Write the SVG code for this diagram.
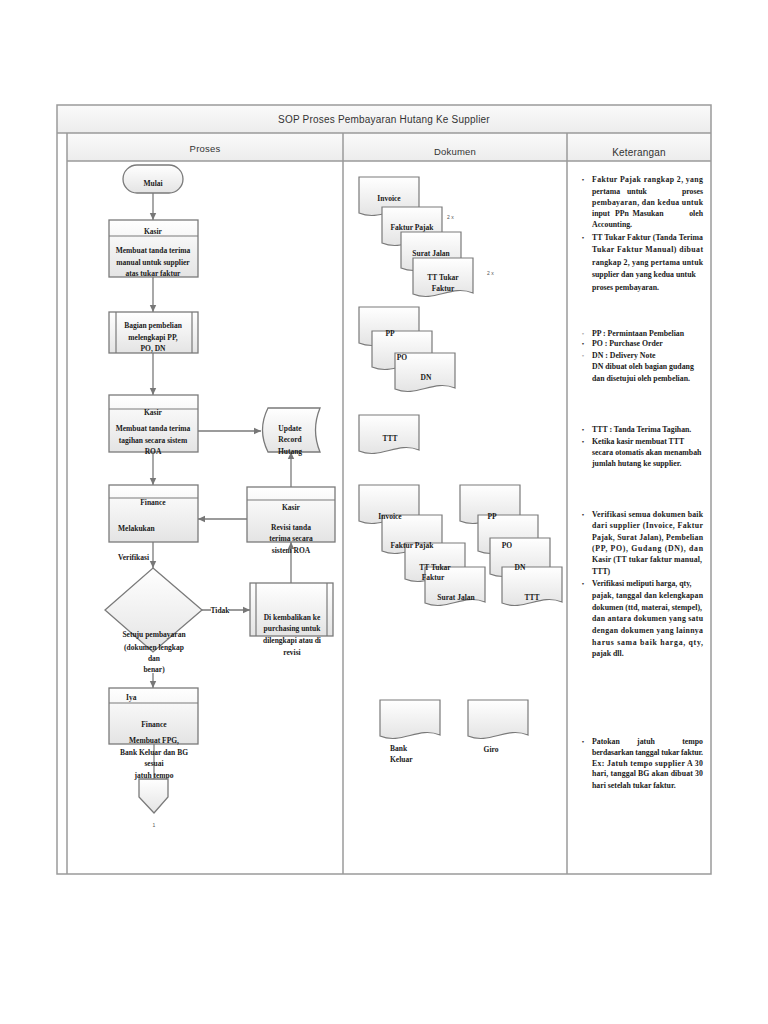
<svg xmlns="http://www.w3.org/2000/svg" xmlns:xlink="http://www.w3.org/1999/xlink" width="768" height="1024" viewBox="0 0 768 1024">
<defs>
<linearGradient id="g" x1="0" y1="0" x2="0" y2="1"><stop offset="0" stop-color="#ffffff"/><stop offset="1" stop-color="#e4e4e4"/></linearGradient>
<linearGradient id="hg" x1="0" y1="0" x2="0" y2="1"><stop offset="0" stop-color="#fafafa"/><stop offset="1" stop-color="#ececec"/></linearGradient>
<marker id="ah" markerUnits="userSpaceOnUse" markerWidth="8" markerHeight="8" refX="7" refY="4" orient="auto"><path d="M0,0.8 L7,4 L0,7.2 Z" fill="#777"/></marker>
<path id="doc" d="M0,0 H60 V35 C38,26 22,45 0,36 Z" fill="url(#g)" stroke="#7a7a7a" stroke-width="1.2"/>
<style>
.fr{fill:none;stroke:#9a9a9a;stroke-width:1.5}
.box{fill:url(#g);stroke:#7a7a7a;stroke-width:1.3}
.ln{fill:none;stroke:#7a7a7a;stroke-width:1.2}
.arr{fill:none;stroke:#7a7a7a;stroke-width:1.3;marker-end:url(#ah)}
.t{font-family:"Liberation Serif",serif;font-size:7.5px;font-weight:bold;fill:#1a1a1a;text-anchor:middle}
.tl{font-family:"Liberation Serif",serif;font-size:7.5px;font-weight:bold;fill:#1a1a1a}
.k{font-family:"Liberation Serif",serif;font-size:7.8px;font-weight:bold;fill:#1a1a1a}
.ke{font-family:"Liberation Serif",serif;font-size:7.8px;font-weight:bold;fill:#1a1a1a;text-anchor:end}
.km{font-family:"Liberation Serif",serif;font-size:7.8px;font-weight:bold;fill:#1a1a1a;text-anchor:middle}
.b{font-family:"Liberation Serif",serif;font-size:7px;fill:#222;text-anchor:middle}
.bf{font-family:"Liberation Serif",serif;font-size:7px;fill:#aaa;text-anchor:middle}
.h{font-family:"Liberation Sans",sans-serif;font-size:10px;fill:#333;text-anchor:middle;letter-spacing:0.2px}
.s{font-family:"Liberation Sans",sans-serif;font-size:5px;fill:#555}
</style>
</defs>
<rect width="768" height="1024" fill="#ffffff"/>

<g id="frame">
<rect x="57" y="105" width="654" height="28" fill="url(#hg)"/>
<rect x="67" y="133" width="644" height="28" fill="url(#hg)"/>
<rect x="57" y="105" width="654" height="769" class="fr"/>
<line x1="57" y1="133" x2="711" y2="133" class="fr"/>
<line x1="67" y1="133" x2="67" y2="874" class="fr"/>
<line x1="343" y1="133" x2="343" y2="874" class="fr"/>
<line x1="567" y1="133" x2="567" y2="874" class="fr" stroke-width="2"/>
<line x1="67" y1="161" x2="711" y2="161" class="fr"/>
<text x="384" y="123" class="h" style="font-size:10px">SOP Proses Pembayaran Hutang Ke Supplier</text>
<text x="205" y="151.5" class="h" style="font-size:9.5px">Proses</text>
<text x="455" y="154.5" class="h" style="font-size:9.5px">Dokumen</text>
<text x="639" y="155.5" class="h">Keterangan</text>
</g>

<g id="connectors">
<line x1="153" y1="193" x2="153" y2="220" class="arr"/>
<line x1="153" y1="277" x2="153" y2="312" class="arr"/>
<line x1="153" y1="353" x2="153" y2="395" class="arr"/>
<line x1="198" y1="431" x2="261" y2="431" class="arr"/>
<line x1="153" y1="452" x2="153" y2="485" class="arr"/>
<line x1="291" y1="487" x2="291" y2="452" class="arr"/>
<line x1="247" y1="519" x2="198" y2="519" class="arr"/>
<line x1="153" y1="542" x2="153" y2="568" class="arr"/>
<line x1="202" y1="610" x2="250" y2="610" class="arr"/>
<line x1="291" y1="583" x2="291" y2="542" class="arr"/>
<line x1="153" y1="673" x2="153" y2="688" class="arr"/>
<line x1="154" y1="744" x2="154" y2="779" class="ln"/>
<rect x="211" y="605" width="18" height="9" fill="#ffffff"/>
<text x="220" y="612.5" class="t">Tidak</text>
<text x="118" y="559.5" class="tl">Verifikasi</text>
</g>

<g id="mulai">
<rect x="123" y="165" width="60" height="28" rx="14" class="box"/>
<text x="153" y="186" class="t">Mulai</text>
</g>

<g id="kasir1">
<rect x="109" y="220" width="89" height="57" class="box"/>
<line x1="109" y1="236" x2="198" y2="236" class="ln"/>
<text x="153" y="233.5" class="t">Kasir</text>
<text x="153" y="252.5" class="t">Membuat tanda terima</text>
<text x="153" y="264.5" class="t">manual untuk supplier</text>
<text x="153" y="275.5" class="t">atas tukar faktur</text>
</g>

<g id="bagian-pembelian">
<rect x="109" y="312" width="89" height="41" class="box"/>
<line x1="116" y1="312" x2="116" y2="353" class="ln"/>
<line x1="192" y1="312" x2="192" y2="353" class="ln"/>
<text x="153" y="327.5" class="t">Bagian pembelian</text>
<text x="153" y="339.5" class="t">melengkapi PP,</text>
<text x="153" y="350.5" class="t">PO, DN</text>
</g>

<g id="kasir2">
<rect x="109" y="395" width="89" height="57" class="box"/>
<line x1="109" y1="409" x2="198" y2="409" class="ln"/>
<text x="153" y="414.5" class="t">Kasir</text>
<text x="153" y="430.5" class="t">Membuat tanda terima</text>
<text x="153" y="442.5" class="t">tagihan secara sistem</text>
<text x="153" y="453.5" class="t">ROA</text>
</g>

<g id="update-record">
<path d="M268,408 H320 Q311,430 320,452 H268 Q257,430 268,408 Z" class="box"/>
<text x="290" y="430.5" class="t">Update</text>
<text x="290" y="441.5" class="t">Record</text>
<text x="290" y="453.5" class="t">Hutang</text>
</g>

<g id="finance1">
<rect x="109" y="485" width="89" height="57" class="box"/>
<line x1="109" y1="498" x2="198" y2="498" class="ln"/>
<text x="153" y="504.5" class="t">Finance</text>
<text x="118" y="530.5" class="tl">Melakukan</text>
</g>

<g id="kasir3">
<rect x="247" y="487" width="88" height="55" class="box"/>
<line x1="247" y1="500" x2="335" y2="500" class="ln"/>
<text x="291" y="509.5" class="t">Kasir</text>
<text x="291" y="529.5" class="t">Revisi tanda</text>
<text x="291" y="540.5" class="t">terima secara</text>
<text x="291" y="552.5" class="t">sistem ROA</text>
</g>

<g id="keputusan">
<polygon points="153,568 202,610 153,652 105,610" class="box"/>
<text x="154" y="636.5" class="t">Setuju pembayaran</text>
<text x="154" y="649.5" class="t">(dokumen lengkap</text>
<text x="154" y="660.5" class="t">dan</text>
<text x="154" y="671.5" class="t">benar)</text>
</g>

<g id="dikembalikan">
<rect x="250" y="583" width="83" height="53" class="box"/>
<line x1="256" y1="583" x2="256" y2="636" class="ln"/>
<line x1="327" y1="583" x2="327" y2="636" class="ln"/>
<text x="292" y="619.5" class="t">Di kembalikan ke</text>
<text x="292" y="630.5" class="t">purchasing untuk</text>
<text x="292" y="642.5" class="t">dilengkapi atau di</text>
<text x="292" y="654.5" class="t">revisi</text>
</g>

<g id="finance2">
<rect x="109" y="688" width="89" height="56" class="box"/>
<line x1="109" y1="703" x2="198" y2="703" class="ln"/>
<text x="126" y="699.5" class="tl">Iya</text>
<text x="154" y="726.5" class="t">Finance</text>
<text x="154" y="742.5" class="t">Membuat FPG,</text>
<text x="154" y="754.5" class="t">Bank Keluar dan BG</text>
<text x="154" y="765.5" class="t">sesuai</text>
<text x="154" y="777.5" class="t">jatuh tempo</text>
</g>

<g id="offpage">
<polygon points="139,779 168,779 168,797 154,813 139,797" class="box"/>
<text x="154" y="827" class="s" text-anchor="middle">1</text>
</g>

<g id="dok-faktur">
<use xlink:href="#doc" href="#doc" x="359" y="177"/>
<text x="389" y="200.5" class="t">Invoice</text>
<use xlink:href="#doc" href="#doc" x="382" y="207"/>
<text x="412" y="229.5" class="t">Faktur Pajak</text>
<text x="447" y="219" class="s">2 x</text>
<use xlink:href="#doc" href="#doc" x="401" y="232"/>
<text x="431" y="255.5" class="t">Surat Jalan</text>
<use xlink:href="#doc" href="#doc" x="413" y="258"/>
<text x="443" y="279.5" class="t">TT Tukar</text>
<text x="443" y="290.5" class="t">Faktur</text>
<text x="487" y="275" class="s">2 x</text>
</g>

<g id="dok-pembelian">
<use xlink:href="#doc" href="#doc" x="359" y="307"/>
<use xlink:href="#doc" href="#doc" x="372" y="331"/>
<use xlink:href="#doc" href="#doc" x="395" y="353"/>
<text x="390" y="335.5" class="t">PP</text>
<text x="402" y="359.5" class="t">PO</text>
<text x="426" y="379.5" class="t">DN</text>
</g>

<g id="dok-ttt">
<use xlink:href="#doc" href="#doc" x="359" y="415"/>
<text x="390" y="440.5" class="t">TTT</text>
</g>

<g id="dok-verifikasi">
<use xlink:href="#doc" href="#doc" x="359" y="485"/>
<use xlink:href="#doc" href="#doc" x="382" y="515"/>
<use xlink:href="#doc" href="#doc" x="405" y="543"/>
<use xlink:href="#doc" href="#doc" x="425" y="567"/>
<text x="390" y="518.5" class="t">Invoice</text>
<text x="412" y="547.5" class="t">Faktur Pajak</text>
<text x="435" y="569.5" class="t">TT Tukar</text>
<text x="433" y="579.5" class="t">Faktur</text>
<text x="456" y="599.5" class="t">Surat Jalan</text>
<use xlink:href="#doc" href="#doc" x="460" y="485"/>
<use xlink:href="#doc" href="#doc" x="478" y="515"/>
<use xlink:href="#doc" href="#doc" x="490" y="538"/>
<use xlink:href="#doc" href="#doc" x="502" y="567"/>
<text x="492" y="518.5" class="t">PP</text>
<text x="507" y="547.5" class="t">PO</text>
<text x="520" y="569.5" class="t">DN</text>
<text x="532" y="599.5" class="t">TTT</text>
</g>

<g id="dok-bayar">
<use xlink:href="#doc" href="#doc" x="380" y="700"/>
<text x="390" y="750.5" class="tl">Bank</text>
<text x="390" y="761.5" class="tl">Keluar</text>
<use xlink:href="#doc" href="#doc" x="468" y="700"/>
<text x="491" y="751.5" class="t">Giro</text>
</g>

<g id="keterangan">
<text x="583" y="181.7" class="b">•</text>
<text x="592" y="181.7" class="k" textLength="111" lengthAdjust="spacing">Faktur Pajak rangkap 2, yang</text>
<text x="592" y="193.7" class="k">pertama</text>
<text x="637" y="193.7" class="km">untuk</text>
<text x="703" y="193.7" class="ke">proses</text>
<text x="592" y="204.7" class="k" textLength="111" lengthAdjust="spacing">pembayaran, dan kedua untuk</text>
<text x="592" y="215.7" class="k">input</text>
<text x="622" y="215.7" class="km">PPn</text>
<text x="648" y="215.7" class="km">Masukan</text>
<text x="703" y="215.7" class="ke">oleh</text>
<text x="592" y="226.7" class="k">Accounting.</text>
<text x="583" y="239.7" class="b">•</text>
<text x="592" y="239.7" class="k" textLength="111" lengthAdjust="spacing">TT Tukar Faktur (Tanda Terima</text>
<text x="592" y="251.7" class="k" textLength="111" lengthAdjust="spacing">Tukar Faktur Manual) dibuat</text>
<text x="592" y="264.7" class="k" textLength="111" lengthAdjust="spacing">rangkap 2, yang pertama untuk</text>
<text x="592" y="276.7" class="k">supplier dan yang kedua untuk</text>
<text x="592" y="289.7" class="k">proses pembayaran.</text>

<text x="583" y="335.7" class="bf">•</text>
<text x="592" y="335.7" class="k">PP : Permintaan Pembelian</text>
<text x="583" y="345.7" class="b">•</text>
<text x="592" y="345.7" class="k">PO : Purchase Order</text>
<text x="583" y="357.7" class="bf">•</text>
<text x="592" y="357.7" class="k">DN : Delivery Note</text>
<text x="592" y="368.7" class="k">DN dibuat oleh bagian gudang</text>
<text x="592" y="380.7" class="k">dan disetujui oleh pembelian.</text>

<text x="583" y="431.7" class="b">•</text>
<text x="592" y="431.7" class="k">TTT : Tanda Terima Tagihan.</text>
<text x="583" y="443.7" class="b">•</text>
<text x="592" y="443.7" class="k">Ketika kasir membuat TTT</text>
<text x="592" y="454.7" class="k">secara otomatis akan menambah</text>
<text x="592" y="465.7" class="k">jumlah hutang ke supplier.</text>

<text x="583" y="516.7" class="b">•</text>
<text x="592" y="516.7" class="k" textLength="111" lengthAdjust="spacing">Verifikasi semua dokumen baik</text>
<text x="592" y="527.7" class="k" textLength="111" lengthAdjust="spacing">dari supplier (Invoice, Faktur</text>
<text x="592" y="539.7" class="k" textLength="111" lengthAdjust="spacing">Pajak, Surat Jalan), Pembelian</text>
<text x="592" y="550.7" class="k" textLength="111" lengthAdjust="spacing">(PP, PO), Gudang (DN), dan</text>
<text x="592" y="561.7" class="k" textLength="110" lengthAdjust="spacing">Kasir (TT tukar faktur manual,</text>
<text x="592" y="573.7" class="k">TTT)</text>
<text x="583" y="585.7" class="b">•</text>
<text x="592" y="585.7" class="k">Verifikasi meliputi harga, qty,</text>
<text x="592" y="597.7" class="k" textLength="111" lengthAdjust="spacing">pajak, tanggal dan kelengkapan</text>
<text x="592" y="609.7" class="k" textLength="110" lengthAdjust="spacing">dokumen (ttd, materai, stempel),</text>
<text x="592" y="620.7" class="k" textLength="111" lengthAdjust="spacing">dan antara dokumen yang satu</text>
<text x="592" y="632.7" class="k" textLength="111" lengthAdjust="spacing">dengan dokumen yang lainnya</text>
<text x="592" y="644.7" class="k" textLength="111" lengthAdjust="spacing">harus sama baik harga, qty,</text>
<text x="592" y="655.7" class="k">pajak dll.</text>

<text x="583" y="743.7" class="b">•</text>
<text x="592" y="743.7" class="k">Patokan</text>
<text x="646" y="743.7" class="km">jatuh</text>
<text x="703" y="743.7" class="ke">tempo</text>
<text x="592" y="754.7" class="k" textLength="111" lengthAdjust="spacing">berdasarkan tanggal tukar faktur.</text>
<text x="592" y="765.7" class="k" textLength="111" lengthAdjust="spacing">Ex: Jatuh tempo supplier A 30</text>
<text x="592" y="775.7" class="k" textLength="111" lengthAdjust="spacing">hari, tanggal BG akan dibuat 30</text>
<text x="592" y="787.7" class="k">hari setelah tukar faktur.</text>
</g>
</svg>
